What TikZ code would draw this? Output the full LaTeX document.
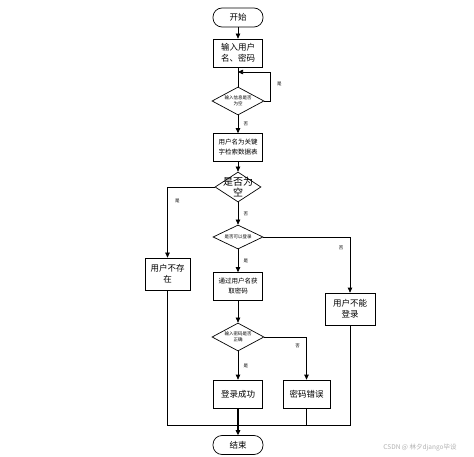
\documentclass[tikz,border=0pt]{standalone}
\usepackage{fontspec}
\setmainfont{Noto Sans CJK SC}
\usetikzlibrary{arrows.meta,shapes.geometric}

\begin{document}
\begin{tikzpicture}[x=1pt,y=-1pt,>={Triangle[length=5pt,width=4.5pt]},
    line width=0.7pt,
    flowbox/.style={draw,minimum width=49pt,minimum height=28pt,
                    align=center,font=\fontsize{8.5}{11}\selectfont,inner sep=1pt},
    term/.style={draw,rounded corners=9pt,minimum width=50pt,minimum height=19pt,
                 font=\fontsize{8.5}{10}\selectfont},
    decision/.style={draw,diamond,aspect=1.9,inner sep=0pt,align=center,
                     font=\fontsize{4.5}{6}\selectfont},
    yesno/.style={font=\fontsize{4.5}{5}\selectfont}]
  \useasboundingbox (0,0) rectangle (474,457);
  \fill[white] (0,0) rectangle (474,457);

  % nodes
  \node[term] (start) at (238,17.5) {开始};
  \node[flowbox] (login) at (238,53) {输入用户\\名、密码};
  \node[decision,minimum width=52pt,minimum height=28pt] (chkempty) at (238,101) {输入信息是否\\为空};
  \node[flowbox,font=\fontsize{6.5}{10}\selectfont] (search) at (238,147.5) {用户名为关键\\字检索数据表};
  \node[decision,minimum width=46pt,minimum height=30pt,
        font=\fontsize{10}{11}\selectfont] (isnull) at (238,187)
        {\makebox[0pt]{是否为}\\\makebox[0pt]{空}};
  \node[decision,minimum width=50pt,minimum height=24pt] (canlogin) at (238,237) {是否可以登录};
  \node[flowbox,font=\fontsize{6.5}{10}\selectfont] (getpwd) at (238,286.5) {通过用户名获\\取密码};
  \node[decision,minimum width=52pt,minimum height=28pt] (pwdok) at (238,337) {输入密码是否\\正确};
  \node[flowbox,minimum width=45pt,minimum height=32pt] (noexist) at (167.5,274) {用户不存\\在};
  \node[flowbox,minimum width=50pt,minimum height=32pt] (nologin) at (350,309) {用户不能\\登录};
  \node[flowbox] (success) at (238,394) {登录成功};
  \node[flowbox,minimum width=47pt] (pwdwrong) at (306.5,394) {密码错误};
  \node[term] (finish) at (238,445) {结束};
  \coordinate (back) at (238,72);
  \coordinate (bus) at (238,425);

  % connectors
  \draw[->] (start) -- (login);
  \draw (login) -- (chkempty);
  \draw[->] (chkempty.east) -- ++(6,0) |- (back)
    node[yesno,pos=0.3,right,xshift=3pt] {是};
  \draw[->] (chkempty) -- (search) node[yesno,midway,right,xshift=2pt] {否};
  \draw[->] (search) -- (isnull);
  \draw[->] (isnull.west) -| (noexist) node[yesno,pos=0.6,right,xshift=4pt] {是};
  \draw[->] (isnull) -- (canlogin) node[yesno,midway,right,xshift=2pt] {否};
  \draw[->] (canlogin.east) -| (nologin) node[yesno,pos=0.6,left,xshift=-3pt] {否};
  \draw[->] (canlogin) -- (getpwd) node[yesno,midway,right,xshift=2pt] {是};
  \draw[->] (getpwd) -- (pwdok);
  \draw[->] (pwdok.east) -| (pwdwrong) node[yesno,pos=0.6,left,xshift=-3pt] {否};
  \draw[->] (pwdok) -- (success) node[yesno,midway,right,xshift=2pt] {是};
  \draw (noexist) |- (bus);
  \draw (nologin) |- (bus);
  \draw (pwdwrong) |- (bus);
  \draw[->,line width=1.3pt] (success) -- (finish);

  \node[text=gray!60,font=\fontsize{6.5}{7}\selectfont] (mark) at (420,448) {CSDN @ 林夕django毕设};
\end{tikzpicture}
\end{document}
